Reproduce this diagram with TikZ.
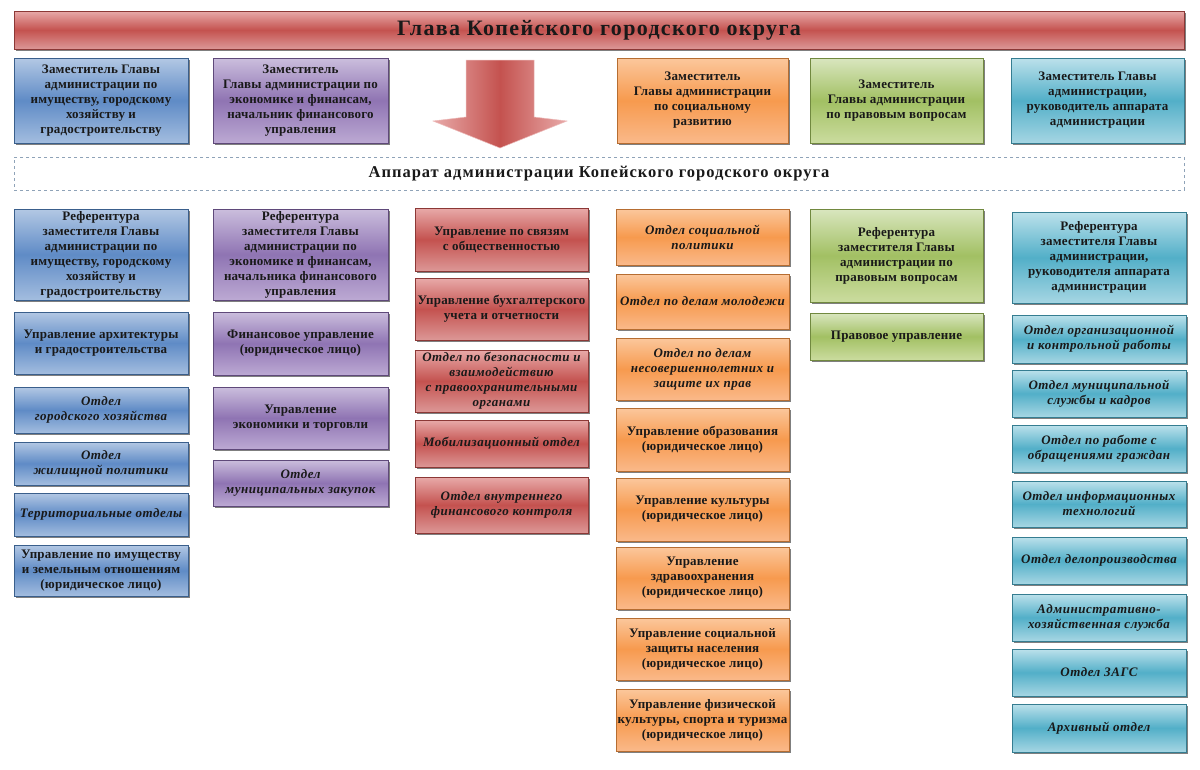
\documentclass[tikz,border=0pt]{standalone}
\usepackage{fontspec}
\setmainfont{Liberation Serif}
\newfontfamily\boxfont[LetterSpace=1.5]{Liberation Serif}
\newfontfamily\boxfontI[LetterSpace=4]{Liberation Serif}
\newfontfamily\headfont[LetterSpace=6]{Liberation Serif}
\usetikzlibrary{shadows}
\definecolor{blT}{HTML}{B3C8E4}\definecolor{blM}{HTML}{5F8BC6}\definecolor{blD}{HTML}{A3BDDF}\definecolor{blB}{HTML}{3A5F8C}
\definecolor{puT}{HTML}{CBBEDD}\definecolor{puM}{HTML}{8F74B3}\definecolor{puD}{HTML}{BCA9D3}\definecolor{puB}{HTML}{5F497A}
\definecolor{rdT}{HTML}{E8AAA9}\definecolor{rdM}{HTML}{C4524F}\definecolor{rdD}{HTML}{DC9796}\definecolor{rdB}{HTML}{8C3836}
\definecolor{orT}{HTML}{FBC79C}\definecolor{orM}{HTML}{F79A4E}\definecolor{orD}{HTML}{FAB98A}\definecolor{orB}{HTML}{B66D31}
\definecolor{grT}{HTML}{D9E6BF}\definecolor{grM}{HTML}{A2C063}\definecolor{grD}{HTML}{CBDC9F}\definecolor{grB}{HTML}{71893F}
\definecolor{teT}{HTML}{BCE1EB}\definecolor{teM}{HTML}{52AFC8}\definecolor{teD}{HTML}{A6D6E3}\definecolor{teB}{HTML}{357D91}
\definecolor{dashc}{HTML}{8FA3B8}
\tikzset{
  base/.style={line width=0.7pt, align=center, inner sep=1pt, outer sep=0pt, text=black!90,
    drop shadow={shadow xshift=1.6pt, shadow yshift=-1.8pt, fill=black, opacity=0.5},
    font=\boxfont\bfseries\fontsize{13}{15}\selectfont},
  it/.style={font=\boxfontI\bfseries\itshape\fontsize{13}{15}\selectfont},
  bl/.style={base, draw=blB, top color=blT, bottom color=blD, middle color=blM},
  pu/.style={base, draw=puB, top color=puT, bottom color=puD, middle color=puM},
  rd/.style={base, draw=rdB, top color=rdT, bottom color=rdD, middle color=rdM},
  or/.style={base, draw=orB, top color=orT, bottom color=orD, middle color=orM},
  gr/.style={base, draw=grB, top color=grT, bottom color=grD, middle color=grM},
  te/.style={base, draw=teB, top color=teT, bottom color=teD, middle color=teM},
}
\newcommand\bx[7]{\node[#2, minimum width={#5-#3}, minimum height={#6-#4}] (#1) at ({(#3+#5)/2},{(#4+#6)/2}) {#7};}
\begin{document}
\begin{tikzpicture}[x=1pt,y=-1pt]
\useasboundingbox (0,0) rectangle (1200,769);
\fill[white] (0,0) rectangle (1200,769);
% banner
\node[rd, minimum width=1170, minimum height=38, font=\headfont\bfseries\fontsize{22}{26}\selectfont] (head) at (599,30) {Глава Копейского городского округа};
% arrow
\shade[left color=rdT, right color=rdT, middle color=rdM, draw=rdT!80!white, line width=0.5pt]
  (466,60) -- (534,60) -- (534,117) -- (567,121) -- (500,148) -- (433,121) -- (466,117) -- cycle;
% deputies
\bx{z1}{bl}{14}{58}{188}{143}{Заместитель Главы\\администрации по\\имуществу, городскому\\хозяйству и\\градостроительству}
\bx{z2}{pu}{213}{58}{388}{143}{Заместитель\\Главы администрации по\\экономике и финансам,\\начальник финансового\\управления}
\bx{z3}{or}{617}{58}{788}{143}{Заместитель\\Главы администрации\\по социальному\\развитию}
\bx{z4}{gr}{810}{58}{983}{143}{Заместитель\\Главы администрации\\по правовым вопросам}
\bx{z5}{te}{1011}{58}{1184}{143}{Заместитель Главы\\администрации,\\руководитель аппарата\\администрации}
% apparat
\node[draw=dashc, dashed, line width=0.8pt, fill=white, minimum width=1170, minimum height=33, inner sep=0pt, font=\headfont\bfseries\fontsize{16.5}{19}\selectfont, text=black!90] (app) at (599,173.5) {Аппарат администрации Копейского городского округа};
% column 1
\bx{a1}{bl}{14}{209}{188}{300}{Референтура\\заместителя Главы\\администрации по\\имуществу, городскому\\хозяйству и\\градостроительству}
\bx{a2}{bl}{14}{312}{188}{374}{Управление архитектуры\\и градостроительства}
\bx{a3}{bl,it}{14}{387}{188}{433}{Отдел\\городского хозяйства}
\bx{a4}{bl,it}{14}{442}{188}{485}{Отдел\\жилищной политики}
\bx{a5}{bl,it}{14}{493}{188}{536}{Территориальные отделы}
\bx{a6}{bl}{14}{545}{188}{596}{Управление по имуществу\\и земельным отношениям\\(юридическое лицо)}
% column 2
\bx{b1}{pu}{213}{209}{388}{300}{Референтура\\заместителя Главы\\администрации по\\экономике и финансам,\\начальника финансового\\управления}
\bx{b2}{pu}{213}{312}{388}{375}{Финансовое управление\\(юридическое лицо)}
\bx{b3}{pu}{213}{387}{388}{449}{Управление\\экономики и торговли}
\bx{b4}{pu,it}{213}{460}{388}{506}{Отдел\\муниципальных закупок}
% column 3
\bx{c1}{rd}{415}{208}{588}{271}{Управление по связям\\с общественностью}
\bx{c2}{rd}{415}{278}{588}{340}{Управление бухгалтерского\\учета и отчетности}
\bx{c3}{rd,it}{415}{350}{588}{412}{Отдел по безопасности и\\взаимодействию\\с правоохранительными\\органами}
\bx{c4}{rd,it}{415}{420}{588}{467}{Мобилизационный отдел}
\bx{c5}{rd,it}{415}{477}{588}{533}{Отдел внутреннего\\финансового контроля}
% column 4
\bx{d1}{or,it}{616}{209}{789}{265}{Отдел социальной\\политики}
\bx{d2}{or,it}{616}{274}{789}{329}{Отдел по делам молодежи}
\bx{d3}{or,it}{616}{338}{789}{400}{Отдел по делам\\несовершеннолетних и\\защите их прав}
\bx{d4}{or}{616}{408}{789}{471}{Управление образования\\(юридическое лицо)}
\bx{d5}{or}{616}{478}{789}{541}{Управление культуры\\(юридическое лицо)}
\bx{d6}{or}{616}{547}{789}{609}{Управление\\здравоохранения\\(юридическое лицо)}
\bx{d7}{or}{616}{618}{789}{680}{Управление социальной\\защиты населения\\(юридическое лицо)}
\bx{d8}{or}{616}{689}{789}{751}{Управление физической\\культуры, спорта и туризма\\(юридическое лицо)}
% column 5
\bx{e1}{gr}{810}{209}{983}{302}{Референтура\\заместителя Главы\\администрации по\\правовым вопросам}
\bx{e2}{gr}{810}{313}{983}{360}{Правовое управление}
% column 6
\bx{f1}{te}{1012}{212}{1186}{303}{Референтура\\заместителя Главы\\администрации,\\руководителя аппарата\\администрации}
\bx{f2}{te,it}{1012}{315}{1186}{363}{Отдел организационной\\и контрольной работы}
\bx{f3}{te,it}{1012}{370}{1186}{417}{Отдел муниципальной\\службы и кадров}
\bx{f4}{te,it}{1012}{425}{1186}{472}{Отдел по работе с\\обращениями граждан}
\bx{f5}{te,it}{1012}{481}{1186}{527}{Отдел информационных\\технологий}
\bx{f6}{te,it}{1012}{537}{1186}{584}{Отдел делопроизводства}
\bx{f7}{te,it}{1012}{594}{1186}{641}{Административно-\\хозяйственная служба}
\bx{f8}{te,it}{1012}{649}{1186}{696}{Отдел ЗАГС}
\bx{f9}{te,it}{1012}{704}{1186}{752}{Архивный отдел}
\end{tikzpicture}
\end{document}
